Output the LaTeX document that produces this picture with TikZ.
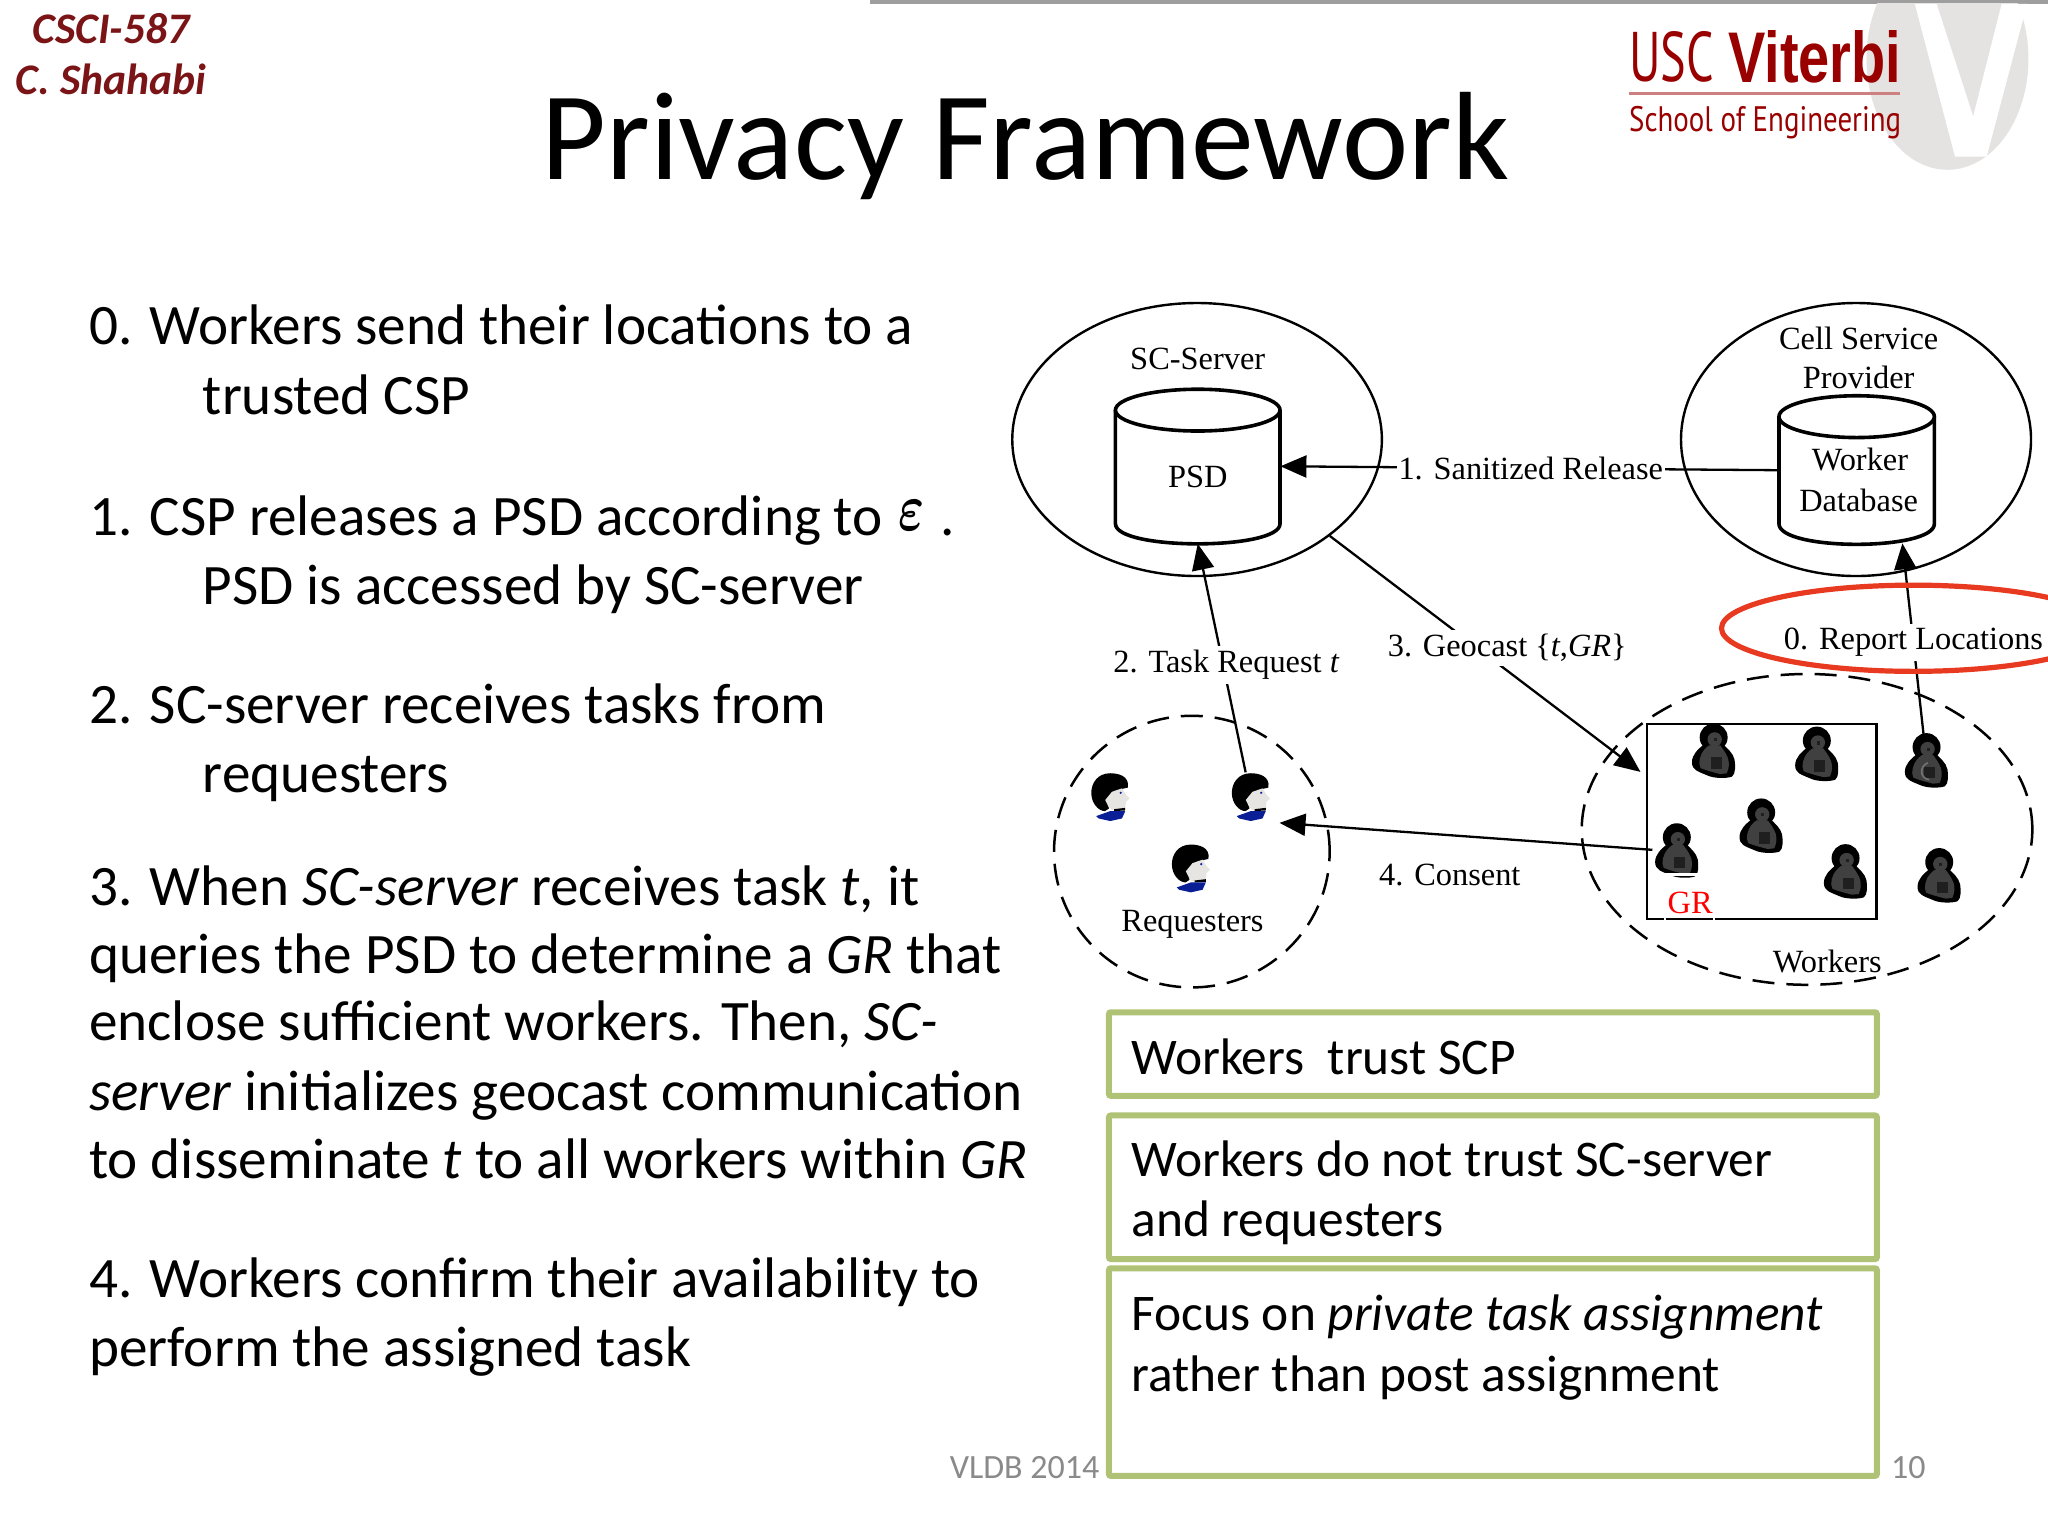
\documentclass[tikz,border=0pt]{standalone}
\usepackage{fontspec}
\usepackage{graphicx}
\setmainfont{Carlito}
\newfontfamily\serifdiag{Liberation Serif}
\usetikzlibrary{shapes.geometric,arrows.meta}
\definecolor{usc}{HTML}{990000}
\definecolor{hdr}{HTML}{7A1416}
\definecolor{boxgreen}{HTML}{B0C275}
\definecolor{foot}{HTML}{8A8A8A}
\definecolor{circ}{HTML}{E4E3E2}
\definecolor{redring}{HTML}{E73A20}
\definecolor{collar}{HTML}{0A1E96}
\definecolor{skin}{HTML}{E6E5E1}
\tikzset{
  x=0.65306pt,y=-0.65306pt,
  body/.style={anchor=base west,inner sep=0pt,font=\fontsize{28.6}{33}\selectfont},
  boxtext/.style={anchor=base west,inner sep=0pt,font=\fontsize{25.7}{30}\selectfont},
  greenbox/.style={draw=boxgreen,line width=3pt,fill=white,rounded corners=1pt},
  dlabel/.style={inner sep=0pt,font=\serifdiag\fontsize{16.2}{19}\selectfont},
  edgelabel/.style={dlabel,fill=white,inner xsep=1pt,inner ysep=2pt},
  cyl/.style={line width=1.8pt},
  flow/.style={line width=1.15pt,-{Triangle[length=13pt,width=11pt]}},
  solidring/.style={ellipse,draw,line width=1.2pt,inner sep=0pt},
  dashring/.style={ellipse,draw,line width=1.25pt,inner sep=0pt,dash pattern=on 11pt off 6pt},
  anchorbox/.style={inner sep=0pt,minimum width=24pt,minimum height=24pt},
  workerpic/.pic={
    \fill[black] (0,-11) circle (10.7);
    \fill[black] (-7,-6) .. controls (-12,-2) and (-16.6,2) .. (-16.6,8) .. controls (-16.6,14) and (-12,15) .. (-5,18) .. controls (0,20.5) and (10,20.5) .. (14,19) .. controls (17,17) and (16.6,10) .. (16,6) .. controls (15,1) and (10,-3) .. (7,-6) -- cycle;
    \fill[black!75] (0.8,-9.5) circle (5.5);
    \fill[black!75] (-3.5,-5) .. controls (-9,-1) and (-11,4) .. (-11,9) -- (-10,12.5) .. controls (-6,14) and (-3,15) .. (5,17) -- (10,16.5) .. controls (12,12) and (12,9) .. (11,5) .. controls (9,0) and (7,-2) .. (5,-5) -- cycle;
    \fill[black!88] (-2,4) rectangle (6.4,12.8);
    \fill[black!88] (0,-10.5) rectangle (2.5,-8);
  },
  requesterpic/.pic={
    \fill[black] (13.5,-7) .. controls (15,-16) and (6,-18) .. (0,-18) .. controls (-10,-18) and (-14.5,-10) .. (-14.5,-3) .. controls (-14.5,5) and (-9,11) .. (-4,11) -- (-1,9) -- (-2,3) -- (1,-3) -- (9,-6) -- cycle;
    \fill[skin] (-3.8,2.5) -- (1.3,-3.8) -- (9,-6.4) -- (12.2,-1.3) -- (14.8,1.3) -- (12,3.8) -- (11.5,9) -- (1.3,10.2) -- (-1.3,7.6) -- cycle;
    \fill[black] (3,9.5) -- (11.5,8.5) -- (11.5,10.5) -- (3,11) -- cycle;
    \fill[collar] (-10.7,14.8) -- (0,11) -- (11.5,11) -- (9,16.6) -- (0,18.6) -- (-9,16.6) -- cycle;
    \fill[collar] (8,-3) circle (0.9);
  }
}
\begin{document}
\begin{tikzpicture}
\useasboundingbox (0,0) rectangle (1568,1176);
\clip (0,0) rectangle (1568,1176);
\fill[white] (0,0) rectangle (1568,1176);

% header bar
\fill[black!38] (666,0) rectangle (1568,3);

% logo
\begin{scope}
  \clip (1420,3) rectangle (1568,140);
  \fill[circ] (1491,45) ellipse [x radius=62,y radius=85];
  \fill[white] (1466,3) -- (1496.8,120) -- (1521,120) -- (1552,3) -- (1532.5,3) -- (1510.7,89) -- (1482.7,3) -- cycle;
\end{scope}
\node (uscword) [anchor=north west,inner sep=0pt,text=usc] at (1247,24) {\resizebox{42.4pt}{25pt}{\fontspec{PT Sans}USC}};
\node (vitword) [anchor=north west,inner sep=0pt,text=usc] at (1323,23) {\resizebox{86.5pt}{26pt}{\fontspec{Liberation Sans}\bfseries Viterbi}};
\fill[usc!50] (1247,70.5) rectangle (1455,72.5);
\node (schoolword) [anchor=north west,inner sep=0pt,text=usc] at (1247,81) {\resizebox{136pt}{12.6pt}{\fontspec{PT Sans}School of Engineering}};

% top-left and title
\node (course) [inner sep=0pt,text=hdr,font=\fontsize{21.8}{26}\selectfont\bfseries\itshape] at (85,22) {CSCI-587};
\node (author) [inner sep=0pt,text=hdr,font=\fontsize{21.8}{26}\selectfont\bfseries\itshape] at (85,61) {C. Shahabi};
\node (title) [inner sep=0pt,font=\fontsize{62.8}{72}\selectfont] at (785,112) {Privacy Framework};

% left column
\node (l0a) [body] at (68,264) {0. Workers send their locations to a};
\node (l0b) [body] at (155,317) {trusted CSP};
\node (l1a) [body] at (68,410) {1. CSP releases a PSD according to};
\node (l1eps) [inner sep=0pt] at (698,395) {\resizebox{13pt}{15pt}{\boldmath$\varepsilon$}};
\node (l1dot) [body] at (720,410) {.};
\node (l1b) [body] at (155,463) {PSD is accessed by SC-server};
\node (l2a) [body] at (68,554) {2. SC-server receives tasks from};
\node (l2b) [body] at (155,607) {requesters};
\node (l3a) [body] at (68,693) {3. When \textit{SC-server} receives task \textit{t}, it};
\node (l3b) [body] at (68,745) {queries the PSD to determine a \textit{GR} that};
\node (l3c) [body] at (68,797) {enclose sufficient workers. Then, \textit{SC-}};
\node (l3d) [body] at (68,850) {\textit{server} initializes geocast communication};
\node (l3e) [body] at (68,902) {to disseminate \textit{t} to all workers within \textit{GR}};
\node (l4a) [body] at (68,993) {4. Workers confirm their availability to};
\node (l4b) [body] at (68,1046) {perform the assigned task};

% rings
\node (sc) [solidring,minimum width=184.8pt,minimum height=136.5pt] at (916.5,336.5) {};
\node (csp) [solidring,minimum width=175pt,minimum height=136.5pt] at (1421,336.5) {};
\node (reqring) [dashring,minimum width=137.8pt,minimum height=135.8pt] at (912.5,652) {};
\node (wring) [dashring,minimum width=225.3pt,minimum height=155.4pt] at (1383.5,635) {};

% cylinders
\draw[cyl,fill=white] (854,314) -- (854,401) .. controls (854,421.5) and (980,421.5) .. (980,401) -- (980,314);
\draw[cyl,fill=white] (917,314) ellipse [x radius=63,y radius=16];
\draw[cyl,fill=white] (1362,319) -- (1362,401) .. controls (1362,422) and (1481,422) .. (1481,401) -- (1481,319);
\draw[cyl,fill=white] (1421.5,319) ellipse [x radius=59.5,y radius=16];
\node (psd) [inner sep=0pt,minimum width=82.3pt,minimum height=77.1pt] at (917,357) {};
\node (db) [inner sep=0pt,minimum width=77.7pt,minimum height=74.5pt] at (1421.5,360) {};
\coordinate (dbin) at (1456.5,416);
\coordinate (grin) at (1256,591);
\coordinate (reqin) at (979.6,630);

% GR rectangle
\node (gr) [draw,line width=1.3pt,inner sep=0pt,minimum width=114.7pt,minimum height=97.4pt] at (1348.8,629) {};

% people
\pic at (1312,575.6) {workerpic};
\pic at (1391,578) {workerpic};
\pic at (1475,583) {workerpic};
\draw[black!55,line width=0.8pt] (1476,584) .. controls (1469,587) and (1470,596) .. (1477,597);
\pic at (1348.4,633) {workerpic};
\pic at (1283.8,652) {workerpic};
\pic at (1413,668) {workerpic};
\pic at (1484.7,671) {workerpic};
\fill[white] (1270,668.6) rectangle (1302,670.6);
\fill[white] (1274,701) rectangle (1275.2,706);
\fill[white] (1311.5,701) rectangle (1312.7,706);
\pic at (850,610) {requesterpic};
\pic at (957.6,610) {requesterpic};
\pic at (911.7,664.6) {requesterpic};
\node (wone) [anchorbox] at (1475,583) {};
\node (wgr) [anchorbox] at (1283.8,652) {};
\node (rone) [anchorbox] at (957.6,610) {};

% connectors
\draw[flow] (db.west) -- (psd.east);
\draw[flow] (rone) -- (psd.south);
\draw[flow] (sc.-36.4) -- (grin);
\draw[flow] (wone) -- (dbin);
\draw[flow] (wgr) -- (reqin);

% labels
\node (slab) [dlabel] at (917,275) {SC-Server};
\node (plab) [dlabel] at (917,365) {PSD};
\node (clab1) [dlabel] at (1423,259) {Cell Service};
\node (clab2) [dlabel] at (1423,289) {Provider};
\node (wlab1) [dlabel] at (1424,352) {Worker};
\node (wlab2) [dlabel] at (1423,383) {Database};
\node (e1) [edgelabel] at (1172,359) {1. Sanitized Release};
\node (e2) [edgelabel] at (939,509) {2. Task Request \textit{t}};
\node (e3) [edgelabel] at (1154,496) {3. Geocast \{\textit{t},\textit{GR}\}};
\node (e0) [edgelabel] at (1465,492) {0. Report Locations};
\node (e4) [dlabel] at (1110,670) {4. Consent};
\node (rlab) [dlabel] at (913,708) {Requesters};
\node (wlab) [dlabel] at (1399,736) {Workers};
\node (grlab) [dlabel,text=red] at (1294,691) {GR};

% red ring
\draw[redring,line width=2.6pt] (1465,481) ellipse [x radius=147,y radius=33];

% footer and boxes
\node (vldb) [anchor=base east,inner sep=0pt,text=foot,font=\fontsize{17}{20}\selectfont] at (842,1132) {VLDB 2014};
\node (pageno) [anchor=base,inner sep=0pt,text=foot,font=\fontsize{17}{20}\selectfont] at (1461,1132) {10};
\node (b1) [greenbox,inner sep=0pt,minimum width=384pt,minimum height=41.8pt] at (1143,807) {};
\node (b2) [greenbox,inner sep=0pt,minimum width=384pt,minimum height=71.8pt] at (1143,909) {};
\node (b3) [greenbox,inner sep=0pt,minimum width=384pt,minimum height=103.8pt] at (1143,1050.5) {};
\node (t1) [boxtext] at (866,823) {Workers\ \ trust SCP};
\node (t2a) [boxtext] at (866,901) {Workers do not trust SC-server};
\node (t2b) [boxtext] at (866,947) {and requesters};
\node (t3a) [boxtext] at (866,1019) {Focus on \textit{private task assignment}};
\node (t3b) [boxtext] at (866,1065) {rather than post assignment};
\end{tikzpicture}
\end{document}
